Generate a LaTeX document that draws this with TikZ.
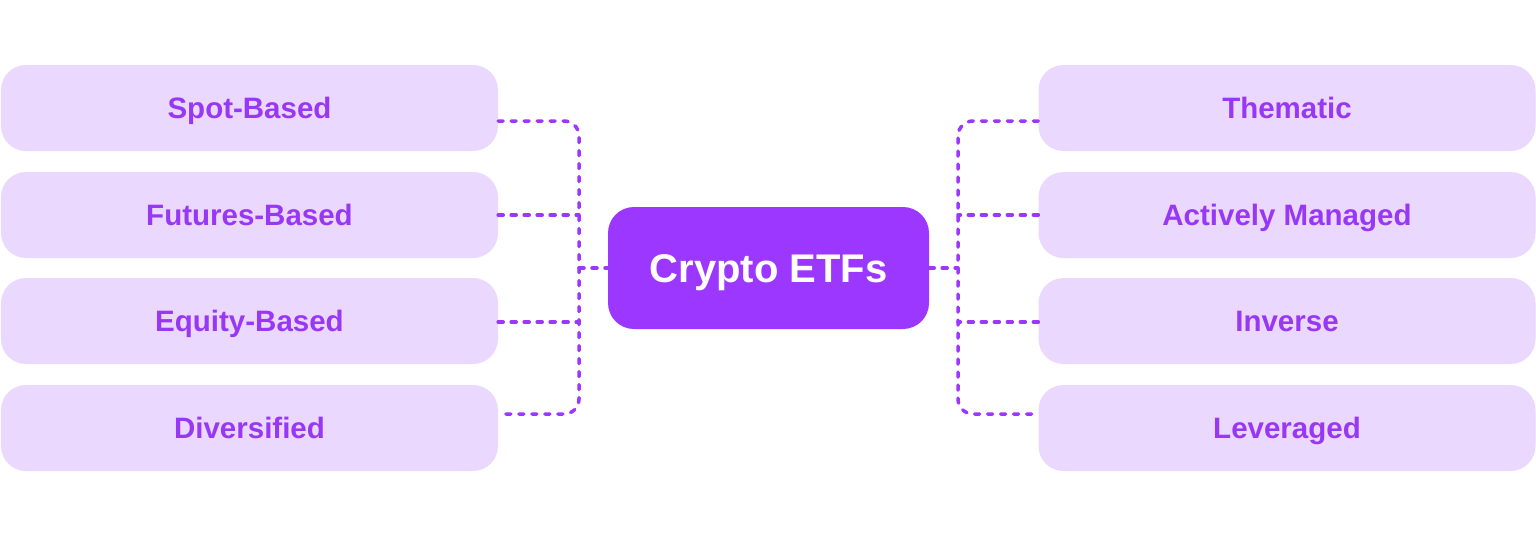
\documentclass[tikz,border=0pt]{standalone}
\usepackage{fontspec}
\setmainfont{Liberation Sans}
\definecolor{vio}{HTML}{9B37FF}
\definecolor{lav}{HTML}{EAD8FF}
\definecolor{vtext}{HTML}{9838F5}
\begin{document}
\begin{tikzpicture}[x=1pt,y=-1pt,
  leaf/.style={fill=lav, rounded corners=25pt, minimum width=497pt, minimum height=86pt,
    inner sep=0pt, text height=21pt, text depth=0pt, text=vtext,
    font=\fontsize{29.5}{34}\selectfont\bfseries},
  hub/.style={fill=vio, rounded corners=26pt, minimum width=321pt, minimum height=122pt,
    inner sep=0pt, text height=29pt, text depth=0pt, text=white,
    font=\fontsize{40}{46}\selectfont\bfseries},
  conn/.style={draw=vio, line width=3.5pt, line cap=round, dash pattern=on 5pt off 8pt}]
\useasboundingbox[fill=white] (0,0) rectangle (1536,536);
% left leaves
\node[leaf] (s1) at (249.5,108) {Spot-Based};
\node[leaf] (s2) at (249.5,215) {Futures-Based};
\node[leaf] (s3) at (249.5,321) {Equity-Based};
\node[leaf] (s4) at (249.5,428) {Diversified};
% right leaves
\node[leaf] (r1) at (1287,108) {Thematic};
\node[leaf] (r2) at (1287,215) {Actively Managed};
\node[leaf] (r3) at (1287,321) {Inverse};
\node[leaf] (r4) at (1287,428) {Leveraged};
% hub
\node[hub] (c) at (768.5,268) {Crypto ETFs};
\coordinate (lj) at (579,268);
\coordinate (rj) at (958,268);
% left connectors
\draw[conn, rounded corners=15pt] ([yshift=-13pt]s1.east) -| (lj) |- ([yshift=14pt]s4.east);
\draw[conn] (s2.east) -- (s2.east -| lj);
\draw[conn] ([yshift=-1pt]s3.east) -- ([yshift=-1pt]s3.east -| lj);
\draw[conn] (lj) -- (c.west);
% right connectors
\draw[conn, rounded corners=15pt] ([yshift=-13pt]r1.west) -| (rj) |- ([yshift=14pt]r4.west);
\draw[conn] (r2.west) -- (r2.west -| rj);
\draw[conn] ([yshift=-1pt]r3.west) -- ([yshift=-1pt]r3.west -| rj);
\draw[conn] (c.east) -- (rj);
\end{tikzpicture}
\end{document}
